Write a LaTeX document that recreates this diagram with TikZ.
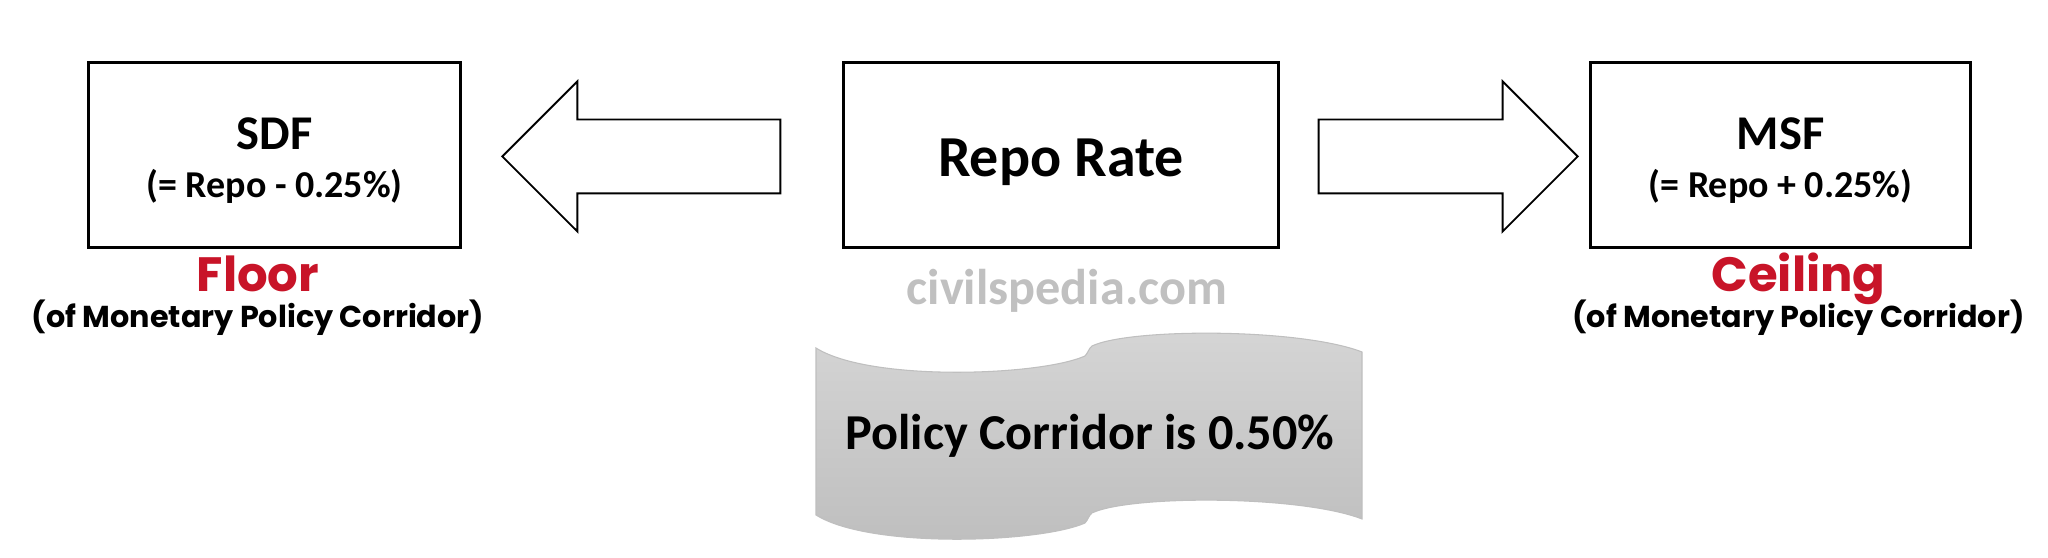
\documentclass[tikz,border=0pt]{standalone}
\usepackage{fontspec}
\usepackage{tikz}
\usetikzlibrary{shapes.arrows,calc}
\newfontfamily\calfont{Carlito}
\newfontfamily\popfont{Poppins}
\definecolor{floorred}{RGB}{200,20,40}
\definecolor{markgray}{RGB}{192,192,192}
\definecolor{wavetop}{RGB}{213,213,213}
\definecolor{wavebot}{RGB}{190,190,190}

\begin{document}
\begin{tikzpicture}[
    rate/.style={draw,line width=0.85pt,minimum height=1.85cm},
    bigarrow/.style={draw,single arrow,line width=0.55pt,inner sep=0pt,inner ysep=0.36cm,
        single arrow head extend=0.38cm,single arrow tip angle=90,minimum width=1.48cm,anchor=tip},
    rname/.style={anchor=base,font=\calfont\bfseries\fontsize{13.8}{16}\selectfont},
    rrule/.style={anchor=base,font=\calfont\bfseries\fontsize{10.8}{13}\selectfont},
    bound/.style={anchor=base,text=floorred,font=\popfont\bfseries\fontsize{13.7}{16}\selectfont},
    boundof/.style={anchor=base,font=\popfont\bfseries\fontsize{8.6}{10}\selectfont},
    sitemark/.style={anchor=base,text=markgray,font=\calfont\bfseries\fontsize{14.3}{17}\selectfont}]
    \useasboundingbox (0,0) rectangle (20.48,5.58);

    \node[rate,minimum width=3.72cm] (sdf) at (2.745,4.03) {};
    \node[rate,minimum width=4.35cm] (repo) at (10.61,4.03) {};
    \node[rate,minimum width=3.80cm] (msf) at (17.805,4.03) {};

    \node[rname] (sdfname) at ($(sdf.center)+(0,0.05)$) {SDF};
    \node[rrule] (sdfrule) at ($(sdf.center)+(0,-0.43)$) {(= Repo - 0.25\%)};
    \node[rname,font=\calfont\bfseries\fontsize{16.5}{19}\selectfont] (reponame) at ($(repo.center)+(0,-0.22)$) {Repo Rate};
    \node[rname] (msfname) at ($(msf.center)+(0,0.05)$) {MSF};
    \node[rrule] (msfrule) at ($(msf.center)+(0,-0.43)$) {(= Repo + 0.25\%)};

    \node[bigarrow,shape border rotate=180,minimum height=2.78cm] (tosdf) at ($(sdf.east)+(0.39,-0.015)$) {};
    \node[bigarrow,minimum height=2.59cm] (tomsf) at ($(msf.west)+(-0.10,-0.015)$) {};

    \node[bound] (floor) at ($(sdf.center)+(-0.165,-1.37)$) {Floor};
    \node[boundof] (floorof) at ($(sdf.center)+(-0.165,-1.73)$) {(of Monetary Policy Corridor)};
    \node[bound] (ceiling) at ($(msf.center)+(0.18,-1.37)$) {Ceiling};
    \node[boundof] (ceilingof) at ($(msf.center)+(0.18,-1.73)$) {(of Monetary Policy Corridor)};

    \node[sitemark] (site) at ($(repo.center)+(0.06,-1.50)$) {civilspedia.com};

    \shadedraw[top color=wavetop,bottom color=wavebot,draw=black!25,line width=0.3pt]
        (8.16,2.10) .. controls (8.70,1.76) and (10.40,1.82) .. (10.85,2.02)
        .. controls (10.88,2.05) and (10.89,2.10) .. (10.92,2.12)
        .. controls (11.30,2.30) and (13.00,2.30) .. (13.62,2.06)
        -- (13.62,0.39)
        .. controls (13.00,0.63) and (11.30,0.63) .. (10.92,0.45)
        .. controls (10.89,0.43) and (10.88,0.38) .. (10.85,0.35)
        .. controls (10.40,0.15) and (8.70,0.09) .. (8.16,0.43) -- cycle;
    \node[rname,font=\calfont\bfseries\fontsize{14.3}{17}\selectfont] (corridor) at (10.90,1.08) {Policy Corridor is 0.50\%};
\end{tikzpicture}
\end{document}
